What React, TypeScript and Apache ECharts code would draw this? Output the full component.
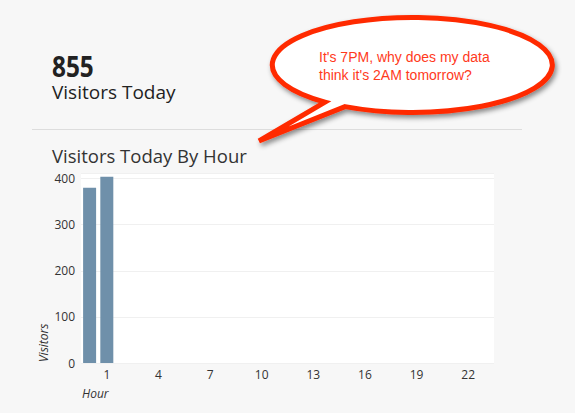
import { useEffect, useRef } from "react";
import * as echarts from "echarts";

const hours = [
  "0", "1", "2", "3", "4", "5", "6", "7", "8", "9", "10", "11",
  "12", "13", "14", "15", "16", "17", "18", "19", "20", "21", "22", "23",
];
const visitors = [380, 404, 0, 0, 0, 0, 0, 0, 0, 0, 0, 0, 0, 0, 0, 0, 0, 0, 0, 0, 0, 0, 0, 0];
const totalToday = "855";
const bubbleLines = ["It's 7PM, why does my data", "think it's 2AM tomorrow?"];

const BUBBLE_PATH =
  "M325 102.08 L259 141 L345 106.6 A140 47.5 0 1 0 325 102.08 Z";

let bubbleRegistered = false;
function registerBubble() {
  if (bubbleRegistered) return;
  echarts.graphic.registerShape("bubble", echarts.graphic.extendPath(BUBBLE_PATH, {}));
  bubbleRegistered = true;
}

export default function App() {
  const ref = useRef<HTMLDivElement>(null);

  useEffect(() => {
    if (!ref.current) return;
    registerBubble();
    const chart = echarts.init(ref.current, null, { renderer: "svg" });
    const textColor = "#333";
    const font = "'Open Sans', sans-serif";

    chart.setOption({
      animation: false,
      backgroundColor: "#f7f7f7",
      grid: {
        left: 81,
        right: 81,
        top: 173,
        bottom: 50,
        show: true,
        backgroundColor: "#fff",
        borderWidth: 0,
      },
      xAxis: {
        type: "category",
        data: hours,
        axisLine: { show: false },
        axisTick: { show: false },
        axisLabel: {
          color: textColor,
          fontFamily: font,
          fontSize: 12,
          margin: 5,
          interval: (i: number) => i % 3 === 1,
        },
      },
      yAxis: {
        type: "value",
        min: 0,
        max: 412,
        interval: 100,
        axisLine: { show: false },
        axisTick: { show: false },
        splitLine: { lineStyle: { color: "#f0f0f0" } },
        axisLabel: {
          color: textColor,
          fontFamily: font,
          fontSize: 12,
          margin: 6,
          showMaxLabel: false,
        },
      },
      series: [
        {
          type: "bar",
          data: visitors,
          barWidth: 13,
          itemStyle: { color: "#6f90aa" },
        },
      ],
      graphic: [
        {
          type: "text",
          x: 52,
          y: 66.5,
          scaleX: 0.87,
          style: {
            text: totalToday,
            font: `bold 28px ${font}`,
            fill: "#222",
            verticalAlign: "middle",
          },
        },
        {
          type: "text",
          x: 52,
          y: 92,
          style: {
            text: "Visitors Today",
            font: `19px ${font}`,
            fill: "#222",
            verticalAlign: "middle",
          },
        },
        {
          type: "line",
          shape: { x1: 32, y1: 129.5, x2: 522, y2: 129.5 },
          style: { stroke: "#dddddd", lineWidth: 1 },
        },
        {
          type: "text",
          x: 52,
          y: 155.5,
          style: {
            text: "Visitors Today By Hour",
            font: `18.5px ${font}`,
            fill: "#333",
            verticalAlign: "middle",
          },
        },
        {
          type: "text",
          x: 82,
          y: 393,
          style: {
            text: "Hour",
            font: `italic 12px ${font}`,
            fill: textColor,
            verticalAlign: "middle",
          },
        },
        {
          type: "text",
          x: 43,
          y: 362,
          rotation: Math.PI / 2,
          style: {
            text: "Visitors",
            font: `italic 12px ${font}`,
            fill: textColor,
            align: "left",
            verticalAlign: "middle",
          },
        },
        {
          type: "bubble",
          x: 0,
          y: 0,
          style: {
            fill: "#fff",
            stroke: "#ff2a00",
            lineWidth: 5,
            lineJoin: "miter",
            shadowBlur: 5,
            shadowOffsetX: 2,
            shadowOffsetY: 3,
            shadowColor: "rgba(0,0,0,0.45)",
          },
        },
        {
          type: "text",
          x: 319,
          y: 57,
          style: {
            text: bubbleLines[0],
            font: "14px 'Liberation Sans', Arial, sans-serif",
            fill: "#ff3a1c",
            verticalAlign: "middle",
          },
        },
        {
          type: "text",
          x: 319,
          y: 75,
          style: {
            text: bubbleLines[1],
            font: "14px 'Liberation Sans', Arial, sans-serif",
            fill: "#ff3a1c",
            verticalAlign: "middle",
          },
        },
      ],
    });

    return () => chart.dispose();
  }, []);

  return (
    <div
      ref={ref}
      style={{ position: "fixed", left: 0, top: 0, width: 575, height: 413 }}
    />
  );
}
